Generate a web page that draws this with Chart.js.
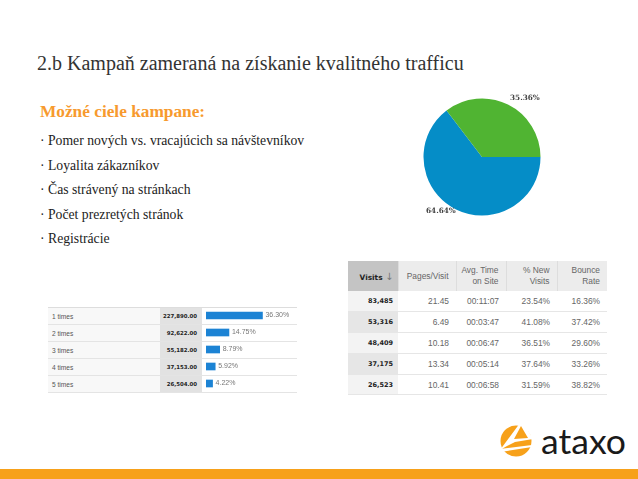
<!DOCTYPE html>
<html>
<head>
<meta charset="utf-8">
<script src="https://cdn.jsdelivr.net/npm/chart.js@4"></script>
<style>
  html, body { margin: 0; padding: 0; background: #fff; }
  #slide { position: relative; width: 638px; height: 479px; overflow: hidden; font-family: "Liberation Serif", serif; }
  #slide > * { position: absolute; }
  #title { left: 37px; top: 52px; font-size: 20px; color: #333; white-space: nowrap; }
  #subtitle { left: 40px; top: 102px; font-size: 17.3px; font-weight: bold; color: #f79a2e; white-space: nowrap; }
  .goal { left: 40px; font-size: 13.7px; color: #222; white-space: nowrap; }
  .goal span { display: inline-block; width: 8px; }
  .pie-label { font: bold 7.3px "DejaVu Serif", serif; color: #444; white-space: nowrap; }
  #footer { left: 0; top: 469px; width: 638px; height: 10px; background: #f7a11a; }

  table { border-collapse: collapse; table-layout: fixed; }
  #stats { left: 348px; top: 261px; width: 259px; font: 8.4px "Liberation Sans", sans-serif; color: #666; }
  #stats th, #stats td { box-sizing: border-box; text-align: right; padding: 0 7px 0 0; }
  #stats th { height: 30px; font-weight: normal; line-height: 11px; background: #ececec; border-left: 1px solid #ddd; }
  #stats th:first-child { background: #c4c4c4; color: #222; font: bold 7.4px "DejaVu Sans", sans-serif; border-left: 0; padding-right: 4px; }
  #stats th i { font-style: normal; font-size: 10px; font-weight: normal; color: #777; }
  #stats td { height: 20.8px; border-bottom: 1px solid #e6e6e6; }
  #stats td:first-child { font: bold 6.5px "DejaVu Sans", sans-serif; color: #222; background: #f3f3f3; padding-right: 5px; }
  #stats tr:nth-child(even) td:first-child { background: #e6e6e6; }

  #visits { left: 48px; top: 307px; width: 249px; font: 6.6px "Liberation Sans", sans-serif; color: #555; border-top: 1px solid #ddd; }
  #visits td { height: 16px; padding: 0; border-bottom: 1px solid #e4e4e4; }
  #visits td:nth-child(1) { width: 112px; padding-left: 4px; box-sizing: border-box; background: #f8f8f8; }
  #visits td:nth-child(2) { width: 42px; padding-right: 5px; box-sizing: border-box; text-align: right; font: bold 5.4px "DejaVu Sans", sans-serif; color: #222; background: #e2e2e2; }
  #barBox { left: 206px; top: 307px; width: 91px; height: 85px; }
  #pieBox { left: 420px; top: 95px; width: 124px; height: 124px; }
</style>
</head>
<body>
<div id="slide">
  <div id="title">2.b Kampaň zameraná na získanie kvalitného trafficu</div>
  <div id="subtitle">Možné ciele kampane:</div>
  <div id="goals"></div>

  <div id="pieBox"><canvas id="pieChart"></canvas></div>
  <div class="pie-label" style="left:510px;top:93px" id="pieLabelB"></div>
  <div class="pie-label" style="left:426px;top:206px" id="pieLabelA"></div>

  <table id="stats"><thead><tr id="statsHead"></tr></thead><tbody id="statsBody"></tbody></table>

  <table id="visits"><tbody id="visitsBody"></tbody></table>
  <div id="barBox"><canvas id="barChart"></canvas></div>

  <svg style="left:495px;top:420px" width="140" height="42" viewBox="0 0 140 42">
    <circle cx="21" cy="21" r="15.5" fill="#f7a11a"/>
    <path d="M5 30 L25 3 L29 3 L38 19 L20 22 L12 26 Z" fill="#fff"/>
    <path d="M19 19 L26 6 L33 18 Z" fill="#f7a11a"/>
    <path d="M4 29 L37 25 L37 27 L6 32 Z" fill="#fff"/>
    <text x="46" y="34" font-family="Lato, sans-serif" font-size="34" fill="#1a1a1a" textLength="85" lengthAdjust="spacingAndGlyphs">ataxo</text>
  </svg>

  <div id="footer"></div>
</div>

<script>
const goals = ['Pomer nových vs. vracajúcich sa návštevníkov', 'Loyalita zákazníkov', 'Čas strávený na stránkach', 'Počet prezretých stránok', 'Registrácie'];
const goalTops = [133, 157.5, 182, 207, 231];

const pieLabels = ['64.64%', '35.36%'];
const pieValues = [64.64, 35.36];
const pieColors = ['#058dc7', '#50b432'];

const statsHeaders = ['Visits <i>↓</i>', 'Pages/Visit', 'Avg. Time<br>on Site', '% New<br>Visits', 'Bounce<br>Rate'];
const statsWidths = [50, 58, 50, 51, 50];
const visitsCol = ['83,485', '53,316', '48,409', '37,175', '26,523'];
const pagesCol = ['21.45', '6.49', '10.18', '13.34', '10.41'];
const timeCol = ['00:11:07', '00:03:47', '00:06:47', '00:05:14', '00:06:58'];
const newCol = ['23.54%', '41.08%', '36.51%', '37.64%', '31.59%'];
const bounceCol = ['16.36%', '37.42%', '29.60%', '33.26%', '38.82%'];

const timesLabels = ['1 times', '2 times', '3 times', '4 times', '5 times'];
const timesTotals = ['227,890.00', '92,622.00', '55,182.00', '37,153.00', '26,504.00'];
const timesShare = [36.30, 14.75, 8.79, 5.92, 4.22];

// text blocks
const goalsEl = document.getElementById('goals');
goals.forEach((g, i) => {
  const d = document.createElement('div');
  d.className = 'goal';
  d.style.position = 'absolute';
  d.style.top = goalTops[i] + 'px';
  d.innerHTML = '<span>·</span>' + g;
  goalsEl.appendChild(d);
});
document.getElementById('pieLabelA').textContent = pieLabels[0];
document.getElementById('pieLabelB').textContent = pieLabels[1];

document.getElementById('statsHead').innerHTML = statsHeaders
  .map((h, i) => `<th style="width:${statsWidths[i]}px">${h}</th>`).join('');
document.getElementById('statsBody').innerHTML = visitsCol
  .map((v, i) => `<tr><td>${v}</td><td>${pagesCol[i]}</td><td>${timeCol[i]}</td><td>${newCol[i]}</td><td>${bounceCol[i]}</td></tr>`).join('');
document.getElementById('visitsBody').innerHTML = timesLabels
  .map((l, i) => `<tr><td>${l}</td><td>${timesTotals[i]}</td><td></td></tr>`).join('');

// Chart.js defaults
Chart.defaults.responsive = true;
Chart.defaults.maintainAspectRatio = false;
Chart.defaults.animation = false;
Chart.defaults.plugins.legend.display = false;
Chart.defaults.plugins.tooltip.enabled = false;

new Chart(document.getElementById('pieChart'), {
  type: 'pie',
  data: { labels: pieLabels, datasets: [{ data: pieValues, backgroundColor: pieColors, borderWidth: 0 }] },
  options: { rotation: 90, radius: 58.5 }
});

// writes the percentage right of each bar
const shareLabels = {
  id: 'shareLabels',
  afterDatasetsDraw(chart) {
    const { ctx } = chart;
    ctx.save();
    ctx.font = '7px "Liberation Sans", sans-serif';
    ctx.fillStyle = '#777';
    ctx.textBaseline = 'middle';
    chart.getDatasetMeta(0).data.forEach((bar, i) => {
      ctx.fillText(timesShare[i].toFixed(2) + '%', bar.x + 3, bar.y);
    });
    ctx.restore();
  }
};

new Chart(document.getElementById('barChart'), {
  type: 'bar',
  data: { labels: timesLabels, datasets: [{ data: timesShare, backgroundColor: '#1c83d4', barThickness: 7 }] },
  options: {
    indexAxis: 'y',
    layout: { padding: 0 },
    scales: {
      x: { display: false, min: 0, max: 58.5 },
      y: { display: false }
    }
  },
  plugins: [shareLabels]
});
</script>
</body>
</html>
